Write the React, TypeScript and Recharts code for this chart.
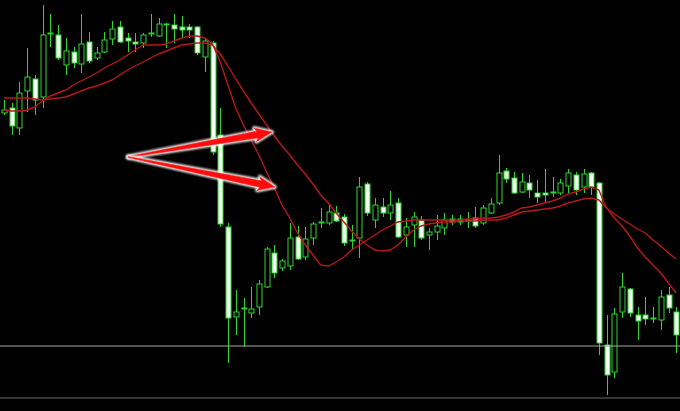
import React from 'react';
import { ComposedChart, Bar, Line, XAxis, YAxis, ReferenceLine } from 'recharts';

// price points, one candle per bar
const openV = [
  287, 292, 272, 309, 321, 303, 366, 365, 335, 348,
  336, 358, 342, 348, 361, 373, 362, 358, 357, 366,
  364, 375, 375, 373, 373, 373, 343, 357, 265, 173,
  83, 91, 87, 93, 113, 147, 132, 134, 163, 143,
  162, 177, 177, 187, 183, 159, 162, 216, 180, 193,
  187, 197, 165, 175, 180, 165, 168, 172, 181, 181,
  179, 182, 177, 187, 197, 229, 222, 208, 217, 207,
  207, 207, 207, 214, 225, 213, 227, 217, 55, 28,
  88, 111, 85, 85, 81, 80, 105, 88,
];
const highV = [
  300, 297, 318, 352, 325, 395, 386, 375, 362, 353,
  386, 368, 353, 368, 379, 379, 367, 367, 367, 386,
  382, 377, 386, 384, 376, 374, 362, 359, 292, 177,
  110, 102, 113, 120, 153, 155, 141, 177, 174, 173,
  178, 192, 196, 194, 186, 175, 223, 218, 202, 202,
  209, 202, 182, 188, 184, 172, 185, 187, 185, 185,
  188, 193, 195, 202, 245, 232, 228, 227, 225, 220,
  231, 223, 221, 231, 228, 231, 228, 218, 85, 92,
  127, 112, 93, 103, 93, 110, 113, 93,
];
const lowV = [
  285, 265, 265, 288, 285, 292, 353, 340, 325, 332,
  327, 337, 340, 347, 355, 357, 348, 348, 352, 363,
  363, 352, 357, 362, 362, 345, 328, 245, 173, 37,
  65, 53, 82, 85, 112, 122, 129, 130, 140, 140,
  155, 172, 175, 178, 154, 150, 142, 184, 172, 183,
  180, 162, 153, 153, 160, 150, 160, 165, 175, 175,
  172, 172, 175, 186, 195, 217, 206, 207, 202, 197,
  197, 203, 205, 207, 205, 207, 205, 45, 5, 22,
  82, 83, 60, 75, 77, 70, 87, 47,
];
const closeV = [
  290, 274, 307, 323, 300, 365, 367, 342, 349, 337,
  356, 339, 347, 360, 371, 358, 359, 356, 365, 367,
  376, 376, 371, 370, 370, 347, 359, 248, 176, 82,
  88, 92, 91, 116, 151, 127, 139, 162, 141, 161,
  176, 178, 188, 179, 157, 160, 213, 187, 195, 187,
  195, 163, 173, 183, 162, 168, 174, 180, 178, 178,
  180, 174, 192, 196, 227, 221, 207, 218, 210, 203,
  205, 208, 217, 227, 210, 226, 213, 57, 25, 86,
  113, 87, 79, 81, 82, 103, 92, 65,
];
const maFast = [
  290, 289, 289, 290, 293, 299, 304, 307, 310, 315,
  319, 323, 327, 332, 336, 340, 345, 350, 355, 355,
  355, 356, 359, 362, 364, 364, 362, 356, 338, 315,
  292, 275, 260, 245, 228, 212, 195, 182, 167, 155,
  145, 135, 134, 138, 143, 150, 155, 160, 165, 170,
  174, 178, 179, 180, 180, 180, 180, 180, 180, 180,
  181, 181, 182, 182, 183, 185, 188, 192, 193, 195,
  197, 199, 202, 206, 208, 211, 213, 210, 192, 182,
  174, 164, 152, 143, 135, 127, 117, 107,
];
const maSlow = [
  302, 302, 302, 302, 301, 300, 301, 302, 303, 306,
  309, 312, 314, 317, 320, 325, 330, 334, 338, 342,
  346, 349, 352, 355, 356, 357, 357, 355, 346, 334,
  321, 309, 297, 286, 275, 264, 254, 245, 235, 226,
  216, 205, 197, 187, 178, 169, 161, 155, 150, 149,
  150, 155, 163, 170, 174, 176, 177, 178, 178, 179,
  179, 179, 180, 180, 180, 182, 185, 188, 189, 190,
  191, 192, 194, 197, 199, 201, 202, 200, 192, 186,
  181, 176, 171, 167, 160, 154, 147, 141,
];
const supportLevel = 54;
const frameLevel = 2;
const arrowTail = { x: 16.07, y: 243 };
const arrowTips = [
  { x: 34.7, y: 268 },
  { x: 35.09, y: 213 },
];

const data = openV.map((o, i) => ({
  i,
  open: o,
  high: highV[i],
  low: lowV[i],
  close: closeV[i],
  fast: maFast[i],
  slow: maSlow[i],
}));

const GREEN = '#2fd42f';
const MA_RED = '#b81818';

const Candle = (props: any) => {
  const { x, y, width, height, payload } = props;
  const { open, close, high, low } = payload;
  const ppu = height / (high - low);
  const cx = Math.round(x + width / 2) + 0.5;
  const yOf = (v: number) => y + (high - v) * ppu;
  const top = yOf(Math.max(open, close));
  const bot = yOf(Math.min(open, close));
  const bull = close >= open;
  const bx = cx - width / 2 + 0.5;
  return (
    <g>
      <line x1={cx} x2={cx} y1={y} y2={y + height} stroke={GREEN} strokeWidth={1} />
      <rect
        x={bx}
        y={top}
        width={width - 1}
        height={Math.max(bot - top, 0.5)}
        fill={bull ? '#000' : '#f2fff2'}
        stroke={GREEN}
        strokeWidth={1}
      />
    </g>
  );
};

let arrowId = 0;
const Arrow = (props: any) => {
  const { x1, y1, x2, y2 } = props;
  const dx = x2 - x1;
  const dy = y2 - y1;
  const len = Math.hypot(dx, dy);
  const ux = dx / len;
  const uy = dy / len;
  const nx = -uy;
  const ny = ux;
  const headLen = 15;
  const headHalf = 7;
  const shaftHead = 3.4;
  const shaftTail = 0.5;
  const bx = x2 - ux * headLen;
  const by = y2 - uy * headLen;
  const pts = [
    [x1 + nx * shaftTail, y1 + ny * shaftTail],
    [bx + nx * shaftHead, by + ny * shaftHead],
    [bx - ux * 2 + nx * headHalf, by - uy * 2 + ny * headHalf],
    [x2, y2],
    [bx - ux * 2 - nx * headHalf, by - uy * 2 - ny * headHalf],
    [bx - nx * shaftHead, by - ny * shaftHead],
    [x1 - nx * shaftTail, y1 - ny * shaftTail],
  ]
    .map((p) => `${p[0].toFixed(1)},${p[1].toFixed(1)}`)
    .join(' ');
  const id = `glow${arrowId++}`;
  return (
    <g>
      <defs>
        <filter id={id} x="-20%" y="-50%" width="140%" height="200%">
          <feGaussianBlur stdDeviation="1" />
        </filter>
      </defs>
      <polygon points={pts} fill="#ffffff" stroke="#ffffff" strokeWidth={3.5} strokeLinejoin="round" filter={`url(#${id})`} />
      <polygon points={pts} fill="#ff0a0a" stroke="#ff3030" strokeWidth={0.6} strokeLinejoin="round" />
    </g>
  );
};

export default function App() {
  return (
    <div style={{ position: 'fixed', left: 0, top: 0, width: 680, height: 411, background: '#000' }}>
      <ComposedChart width={680} height={411} data={data} margin={{ top: 0, right: 0, bottom: 0, left: 0 }}>
        <XAxis dataKey="i" type="number" domain={[-0.5, 87.5]} hide />
        <YAxis type="number" domain={[-11, 400]} hide allowDataOverflow />
        <ReferenceLine y={supportLevel} stroke="#a8a8a8" strokeWidth={1} />
        <ReferenceLine y={frameLevel} stroke="#6a6a6a" strokeWidth={1} />
        <Bar
          dataKey={(d: any) => [d.low, d.high]}
          barSize={6}
          shape={Candle}
          activeBar={false}
          isAnimationActive={false}
        />
        <Line type="linear" dataKey="slow" stroke={MA_RED} strokeWidth={1.4} dot={false} activeDot={false} isAnimationActive={false} />
        <Line type="linear" dataKey="fast" stroke={MA_RED} strokeWidth={1.4} dot={false} activeDot={false} isAnimationActive={false} />
        {arrowTips.map((tip, k) => (
          <ReferenceLine key={k} segment={[arrowTail, tip]} shape={Arrow} />
        ))}
      </ComposedChart>
    </div>
  );
}
